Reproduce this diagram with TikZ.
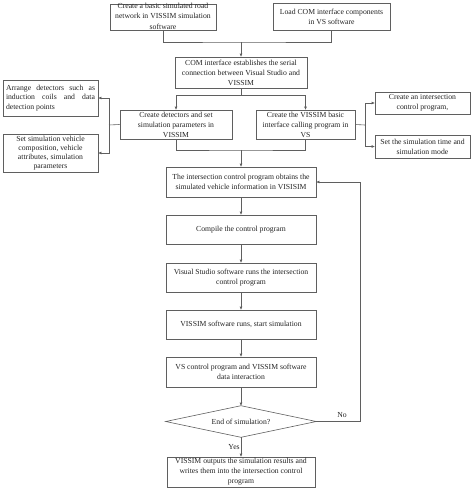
\documentclass[tikz,border=0pt]{standalone}
\usepackage{fontspec}
\setmainfont{Liberation Serif}
\usetikzlibrary{shapes.geometric,arrows.meta}
\definecolor{linec}{RGB}{95,95,95}
\definecolor{txtc}{RGB}{35,35,35}
\tikzset{
  box/.style={draw=linec, line width=0.6pt, inner sep=0pt, align=center, text=txtc,
    font=\fontsize{7.7}{10}\selectfont},
  txt/.style={inner sep=0pt, align=center, text=txtc, font=\fontsize{7.7}{10.5}\selectfont},
  con/.style={draw=linec, line width=0.6pt},
  arr/.style={con, -{Triangle[length=3pt,width=2.4pt]}},
  lbl/.style={inner sep=0pt, text=txtc, font=\fontsize{7.7}{10}\selectfont}
}
\begin{document}
\begin{tikzpicture}[x=1pt,y=-1pt]
\useasboundingbox (0,0) rectangle (474,490);
% top boxes
\node[box, minimum width=106pt, minimum height=26pt] (a) at (163,17) {};
\node[txt] (at) at (163,16) {Create a basic simulated road\\network in VISSIM simulation\\software};
\node[box, minimum width=117pt, minimum height=27pt] (b) at (331.5,16.5) {Load COM interface components\\in VS software};
\node[box, minimum width=132pt, minimum height=31pt] (c) at (241,72.5) {COM interface establishes the serial\\connection between Visual Studio and\\VISSIM};
% second row
\node[box, minimum width=112pt, minimum height=29pt] (d) at (176,124.5) {Create detectors and set\\simulation parameters in\\VISSIM};
\node[box, minimum width=99pt, minimum height=29pt] (e) at (305.5,124.5) {Create the VISSIM basic\\interface calling program in\\VS};
\node[box, minimum width=95pt, minimum height=36pt, align=left, font=\fontsize{7.7}{9.3}\selectfont] (l1) at (50.5,98) {\makebox[89pt][s]{Arrange detectors such as}\\\makebox[89pt][s]{induction coils and data}\\detection points};
\node[box, minimum width=95pt, minimum height=38pt, font=\fontsize{7.7}{9.2}\selectfont] (l2) at (50.5,153) {Set simulation vehicle\\composition, vehicle\\attributes, simulation\\parameters};
\node[box, minimum width=95pt, minimum height=22pt] (r1) at (422.5,103) {Create an intersection\\control program,};
\node[box, minimum width=95pt, minimum height=23pt] (r2) at (422.5,146.5) {Set the simulation time and\\simulation mode};
% main column
\node[box, minimum width=150pt, minimum height=30pt] (f) at (241,182) {The intersection control program obtains the\\simulated vehicle information in VISISIM};
\node[box, minimum width=150pt, minimum height=29pt] (g) at (241,229.5) {Compile the control program};
\node[box, minimum width=150pt, minimum height=29pt] (h) at (241,277.5) {Visual Studio software runs the intersection\\control program};
\node[box, minimum width=150pt, minimum height=29pt] (i) at (241,324.5) {VISSIM software runs, start simulation};
\node[box, minimum width=150pt, minimum height=30pt] (j) at (241,372) {VS control program and VISSIM software\\data interaction};
\node[box, draw=none, minimum width=150pt, minimum height=31pt] (dia) at (241,421.5) {End of simulation?};
\draw[con] (dia.west) -- (dia.north) -- (dia.east) -- (dia.south) -- cycle;
\node[box, minimum width=148pt, minimum height=30pt] (k) at (241,472) {VISSIM outputs the simulation results and\\writes them into the intersection control\\program};
% junction coordinates
\coordinate (j1) at (241,42);
\coordinate (j2) at (241,95);
\coordinate (j3) at (109,125);
\coordinate (j4) at (365,125);
\coordinate (j5) at (241,150);
\coordinate (j6) at (360,421.5);
% connectors
\draw[con] (a.south) |- (j1) -| (b.south);
\draw[arr] (j1) -- (c.north);
\draw[con] (c.south) -- (j2);
\draw[arr] (j2) -| (d.north);
\draw[arr] (j2) -| (e.north);
\draw[con] (d.west) -- (j3);
\draw[arr] (j3) |- (l1.east);
\draw[arr] (j3) |- (l2.east);
\draw[con] (e.east) -- (j4);
\draw[arr] (j4) |- (r1.west);
\draw[arr] (j4) |- (r2.west);
\draw[con] (d.south) |- (j5) -| (e.south);
\draw[arr] (j5) -- (f.north);
\draw[arr] (f) -- (g);
\draw[arr] (g) -- (h);
\draw[arr] (h) -- (i);
\draw[arr] (i) -- (j);
\draw[arr] (j) -- (dia.north);
\draw[arr] (dia.south) -- (k.north) node[lbl, pos=0.5, left=1pt] (yes) {Yes};
\draw[arr] (dia.east) -- (j6) |- (f.east);
\node[lbl] (no) at (342,415) {No};
\end{tikzpicture}
\end{document}
